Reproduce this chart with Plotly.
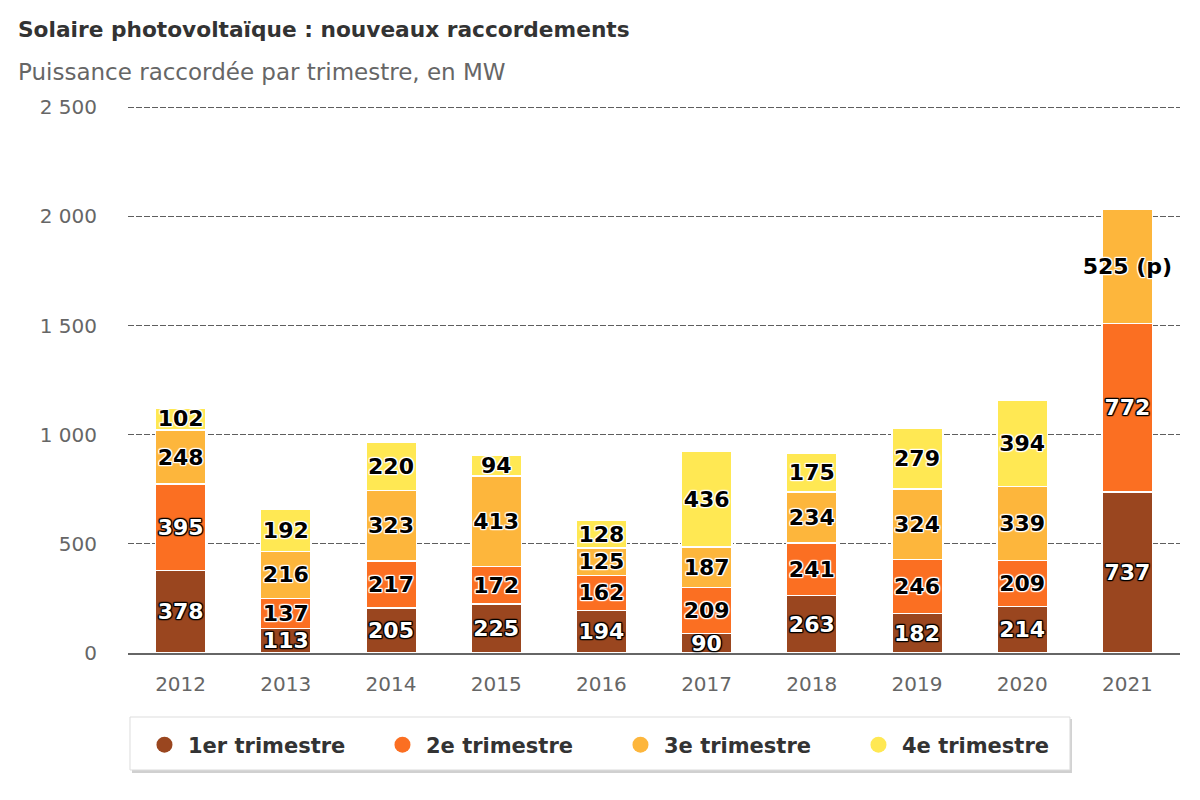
import plotly.graph_objects as go

years = ["2012", "2013", "2014", "2015", "2016", "2017", "2018", "2019", "2020", "2021"]
series_names = ["1er trimestre", "2e trimestre", "3e trimestre", "4e trimestre"]
q1 = [378, 113, 205, 225, 194, 90, 263, 182, 214, 737]
q2 = [395, 137, 217, 172, 162, 209, 241, 246, 209, 772]
q3 = [248, 216, 323, 413, 125, 187, 234, 324, 339, 525]
q4 = [102, 192, 220, 94, 128, 436, 175, 279, 394, None]
q3_labels = ["248", "216", "323", "413", "125", "187", "234", "324", "339", "525 (p)"]
y_ticks = [0, 500, 1000, 1500, 2000, 2500]

colors = ["#9A461F", "#FB6F22", "#FDB63C", "#FFE853"]

def outline(c):
    return ", ".join(f"{dx}px {dy}px 1px {c}" for dx, dy in
                     [(1, 1), (-1, -1), (1, -1), (-1, 1), (0, 1), (1, 0), (0, -1), (-1, 0)])

W_SH = outline("#ffffff")
B_SH = outline("#000000")

def lab(vals):
    return ["" if v is None else str(v) for v in vals]

series = [
    (q1, lab(q1), ["#ffffff"] * 10, [B_SH] * 10),
    (q2, lab(q2), ["#ffffff" if i in (0, 9) else "#000000" for i in range(10)],
     [B_SH if i in (0, 9) else W_SH for i in range(10)]),
    (q3, q3_labels, ["#000000"] * 10, [W_SH] * 10),
    (q4, lab(q4), ["#000000"] * 10, [W_SH] * 10),
]

FONT = "DejaVu Sans"

fig = go.Figure()
for (vals, txt, tcol, tsh), name, col in zip(series, series_names, colors):
    fig.add_trace(go.Bar(
        x=years, y=vals, name=name, text=txt, textposition="inside",
        insidetextanchor="middle", textangle=0, showlegend=False,
        marker=dict(color=col, line=dict(color="#ffffff", width=1.5)),
        textfont=dict(family=FONT, size=22, weight="bold", color=tcol, shadow=tsh),
        hoverinfo="x+y+name",
    ))

for name, col in zip(series_names, colors):
    fig.add_trace(go.Scatter(
        x=[None], y=[None], mode="markers", name=name,
        marker=dict(symbol="circle", size=18, color=col), showlegend=True,
    ))

fig.update_layout(
    width=1200, height=800,
    barmode="stack", bargap=0.52,
    separators=", ",
    plot_bgcolor="#ffffff", paper_bgcolor="#ffffff",
    margin=dict(l=120, r=28, t=97, b=155),
    font=dict(family=FONT, color="#666666"),
    uniformtext=dict(minsize=22, mode="show"),
    xaxis=dict(
        showgrid=False, showline=True, linecolor="#666666", linewidth=2,
        tickfont=dict(size=20, color="#666666"), ticks="", ticklabelstandoff=12,
    ),
    yaxis=dict(
        range=[0, 2510], tickvals=y_ticks, tickformat=",d",
        showgrid=True, gridcolor="#5f5f5f", gridwidth=1, griddash="6px,2px",
        zeroline=False, showline=False,
        tickfont=dict(size=20, color="#666666"), ticklabelstandoff=30,
    ),
    legend=dict(
        orientation="h", traceorder="normal",
        x=0.4648, xanchor="center", y=-0.1679, yanchor="middle",
        font=dict(size=21, color="#333333", weight="bold"),
        bgcolor="rgba(0,0,0,0)", borderwidth=0,
        entrywidth=186, entrywidthmode="pixels", itemsizing="trace", itemwidth=37,
    ),
    shapes=[
        dict(type="rect", xref="paper", yref="paper", layer="below",
             x0=0.0038, x1=0.8973, y0=-0.1205, y1=-0.2190,
             fillcolor="#d0d0d0", line=dict(width=0)),
        dict(type="rect", xref="paper", yref="paper", layer="below",
             x0=0.0019, x1=0.8954, y0=-0.1168, y1=-0.2135,
             fillcolor="#ffffff", line=dict(color="#dddddd", width=1)),
    ],
    annotations=[
        dict(text="<b>Solaire photovoltaïque : nouveaux raccordements</b>",
             xref="paper", yref="paper", x=-0.1065, y=1.137, xanchor="left", yanchor="middle",
             showarrow=False, font=dict(size=21.7, color="#333333")),
        dict(text="Puissance raccordée par trimestre, en MW",
             xref="paper", yref="paper", x=-0.1065, y=1.060, xanchor="left", yanchor="middle",
             showarrow=False, font=dict(size=23, color="#666666")),
    ],
)

fig.write_html("out.html")
